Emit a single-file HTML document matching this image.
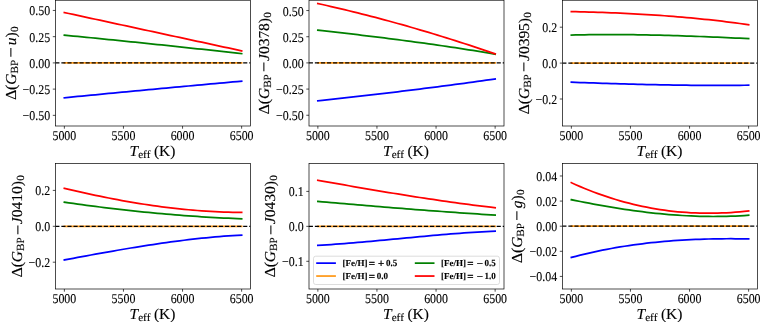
<!DOCTYPE html><html><head><meta charset="utf-8"><style>html,body{margin:0;padding:0;background:#fff;}svg{display:block;will-change:transform;}</style></head><body>
<svg width="760" height="322" viewBox="0 0 760 322" font-family='"Liberation Serif", serif'>
<rect width="760" height="322" fill="#fff"/>
<defs>
<clipPath id="cp0"><rect x="55.5" y="0.25" width="195.0" height="125.75"/></clipPath>
<clipPath id="cp1"><rect x="309.0" y="0.25" width="195.0" height="125.75"/></clipPath>
<clipPath id="cp2"><rect x="562.5" y="0.25" width="195.0" height="125.75"/></clipPath>
<clipPath id="cp3"><rect x="55.5" y="163.5" width="195.0" height="125.5"/></clipPath>
<clipPath id="cp4"><rect x="309.0" y="163.5" width="195.0" height="125.5"/></clipPath>
<clipPath id="cp5"><rect x="562.5" y="163.5" width="195.0" height="125.5"/></clipPath>
</defs>
<g><g clip-path="url(#cp0)" fill="none" stroke-width="1.75" stroke-linecap="square" stroke-linejoin="round"><path d="M64.36,62.9 L241.64,62.9" stroke="#ff9a1a"/><path d="M64.36,97.75 L68.79,97.32 L73.22,96.89 L77.66,96.46 L82.09,96.04 L86.52,95.61 L90.95,95.18 L95.38,94.76 L99.82,94.33 L104.25,93.91 L108.68,93.49 L113.11,93.07 L117.54,92.64 L121.98,92.22 L126.41,91.80 L130.84,91.38 L135.27,90.97 L139.70,90.55 L144.14,90.13 L148.57,89.72 L153.00,89.30 L157.43,88.89 L161.86,88.47 L166.30,88.06 L170.73,87.65 L175.16,87.23 L179.59,86.82 L184.02,86.41 L188.46,86.00 L192.89,85.60 L197.32,85.19 L201.75,84.78 L206.18,84.37 L210.62,83.97 L215.05,83.56 L219.48,83.16 L223.91,82.76 L228.34,82.35 L232.78,81.95 L237.21,81.55 L241.64,81.15" stroke="#0000ff"/><path d="M64.36,35.15 L68.79,35.58 L73.22,36.01 L77.66,36.44 L82.09,36.87 L86.52,37.31 L90.95,37.75 L95.38,38.19 L99.82,38.63 L104.25,39.07 L108.68,39.51 L113.11,39.96 L117.54,40.41 L121.98,40.86 L126.41,41.31 L130.84,41.76 L135.27,42.21 L139.70,42.67 L144.14,43.13 L148.57,43.59 L153.00,44.05 L157.43,44.51 L161.86,44.98 L166.30,45.45 L170.73,45.91 L175.16,46.38 L179.59,46.86 L184.02,47.33 L188.46,47.81 L192.89,48.28 L197.32,48.76 L201.75,49.24 L206.18,49.73 L210.62,50.21 L215.05,50.70 L219.48,51.18 L223.91,51.67 L228.34,52.17 L232.78,52.66 L237.21,53.15 L241.64,53.65" stroke="#008000"/><path d="M64.36,12.55 L68.79,13.51 L73.22,14.46 L77.66,15.42 L82.09,16.38 L86.52,17.34 L90.95,18.29 L95.38,19.25 L99.82,20.21 L104.25,21.17 L108.68,22.12 L113.11,23.08 L117.54,24.04 L121.98,25.00 L126.41,25.95 L130.84,26.91 L135.27,27.87 L139.70,28.83 L144.14,29.79 L148.57,30.74 L153.00,31.70 L157.43,32.66 L161.86,33.62 L166.30,34.57 L170.73,35.53 L175.16,36.49 L179.59,37.45 L184.02,38.40 L188.46,39.36 L192.89,40.32 L197.32,41.27 L201.75,42.23 L206.18,43.19 L210.62,44.15 L215.05,45.10 L219.48,46.06 L223.91,47.02 L228.34,47.98 L232.78,48.93 L237.21,49.89 L241.64,50.85" stroke="#ff0000"/><path d="M55.5,62.9 L250.5,62.9" stroke="#000" stroke-width="1.25" stroke-dasharray="4.15 1.91" stroke-dashoffset="0.2" stroke-linecap="butt"/></g><rect x="55.5" y="0.25" width="195.0" height="125.75" fill="none" stroke="#000" stroke-width="0.7"/><path d="M52.80,10.45 L55.50,10.45 M52.80,36.67 L55.50,36.67 M52.80,62.90 L55.50,62.90 M52.80,89.12 L55.50,89.12 M52.80,115.35 L55.50,115.35 M64.36,126.00 L64.36,128.70 M123.45,126.00 L123.45,128.70 M182.55,126.00 L182.55,128.70 M241.64,126.00 L241.64,128.70" stroke="#000" stroke-width="0.7" fill="none"/><text transform="translate(50.20,15.45) scale(0.890,1)" text-anchor="end" text-rendering="geometricPrecision" stroke="#000" stroke-width="0.12"><tspan font-size="13.40">0.50</tspan></text><text transform="translate(50.20,41.67) scale(0.890,1)" text-anchor="end" text-rendering="geometricPrecision" stroke="#000" stroke-width="0.12"><tspan font-size="13.40">0.25</tspan></text><text transform="translate(50.20,67.90) scale(0.890,1)" text-anchor="end" text-rendering="geometricPrecision" stroke="#000" stroke-width="0.12"><tspan font-size="13.40">0.00</tspan></text><text transform="translate(50.20,94.12) scale(0.890,1)" text-anchor="end" text-rendering="geometricPrecision" stroke="#000" stroke-width="0.12"><tspan font-size="13.40">−0.25</tspan></text><text transform="translate(50.20,120.35) scale(0.890,1)" text-anchor="end" text-rendering="geometricPrecision" stroke="#000" stroke-width="0.12"><tspan font-size="13.40">−0.50</tspan></text><text transform="translate(64.36,140.45) scale(0.890,1)" text-anchor="middle" text-rendering="geometricPrecision" stroke="#000" stroke-width="0.12"><tspan font-size="13.40">5000</tspan></text><text transform="translate(123.45,140.45) scale(0.890,1)" text-anchor="middle" text-rendering="geometricPrecision" stroke="#000" stroke-width="0.12"><tspan font-size="13.40">5500</tspan></text><text transform="translate(182.55,140.45) scale(0.890,1)" text-anchor="middle" text-rendering="geometricPrecision" stroke="#000" stroke-width="0.12"><tspan font-size="13.40">6000</tspan></text><text transform="translate(241.64,140.45) scale(0.890,1)" text-anchor="middle" text-rendering="geometricPrecision" stroke="#000" stroke-width="0.12"><tspan font-size="13.40">6500</tspan></text><text transform="translate(152.50,156.20) scale(1.020,1)" text-anchor="middle" text-rendering="geometricPrecision" stroke="#000" stroke-width="0.12"><tspan font-size="15.20" font-style="italic">T</tspan><tspan font-size="10.94" dy="2.00">eff</tspan><tspan font-size="15.20" dx="3.50" dy="-2.00">(K)</tspan></text><text transform="translate(15.50,63.12) rotate(-90) scale(1.020,1)" text-anchor="middle" text-rendering="geometricPrecision" stroke="#000" stroke-width="0.12"><tspan font-size="15.20">Δ(</tspan><tspan font-size="15.20" font-style="italic">G</tspan><tspan font-size="10.94" dy="2.00">BP</tspan><tspan font-size="18.50" dx="2.00" dy="-0.70">−</tspan><tspan font-size="15.20" font-style="italic" dx="2.00" dy="-1.30">u</tspan><tspan font-size="15.20">)</tspan><tspan font-size="10.94" dx="0.30" dy="2.00">0</tspan></text></g>
<g><g clip-path="url(#cp1)" fill="none" stroke-width="1.75" stroke-linecap="square" stroke-linejoin="round"><path d="M317.86,62.9 L495.14,62.9" stroke="#ff9a1a"/><path d="M317.86,100.75 L322.29,100.29 L326.72,99.82 L331.16,99.35 L335.59,98.88 L340.02,98.40 L344.45,97.91 L348.88,97.43 L353.32,96.93 L357.75,96.44 L362.18,95.94 L366.61,95.43 L371.04,94.92 L375.48,94.41 L379.91,93.89 L384.34,93.37 L388.77,92.85 L393.20,92.32 L397.64,91.78 L402.07,91.24 L406.50,90.70 L410.93,90.15 L415.36,89.60 L419.80,89.05 L424.23,88.49 L428.66,87.92 L433.09,87.35 L437.52,86.78 L441.96,86.20 L446.39,85.62 L450.82,85.04 L455.25,84.45 L459.68,83.85 L464.12,83.26 L468.55,82.65 L472.98,82.05 L477.41,81.44 L481.84,80.82 L486.28,80.20 L490.71,79.58 L495.14,78.95" stroke="#0000ff"/><path d="M317.86,30.15 L322.29,30.64 L326.72,31.14 L331.16,31.65 L335.59,32.15 L340.02,32.66 L344.45,33.17 L348.88,33.69 L353.32,34.21 L357.75,34.73 L362.18,35.26 L366.61,35.79 L371.04,36.33 L375.48,36.88 L379.91,37.42 L384.34,37.98 L388.77,38.54 L393.20,39.10 L397.64,39.67 L402.07,40.25 L406.50,40.83 L410.93,41.42 L415.36,42.02 L419.80,42.62 L424.23,43.23 L428.66,43.85 L433.09,44.48 L437.52,45.11 L441.96,45.75 L446.39,46.40 L450.82,47.06 L455.25,47.73 L459.68,48.40 L464.12,49.09 L468.55,49.78 L472.98,50.48 L477.41,51.20 L481.84,51.92 L486.28,52.65 L490.71,53.39 L495.14,54.15" stroke="#008000"/><path d="M317.86,3.52 L322.29,4.51 L326.72,5.51 L331.16,6.53 L335.59,7.56 L340.02,8.61 L344.45,9.66 L348.88,10.74 L353.32,11.83 L357.75,12.93 L362.18,14.04 L366.61,15.17 L371.04,16.32 L375.48,17.47 L379.91,18.64 L384.34,19.83 L388.77,21.03 L393.20,22.24 L397.64,23.47 L402.07,24.71 L406.50,25.96 L410.93,27.23 L415.36,28.51 L419.80,29.80 L424.23,31.11 L428.66,32.43 L433.09,33.77 L437.52,35.12 L441.96,36.48 L446.39,37.85 L450.82,39.24 L455.25,40.64 L459.68,42.06 L464.12,43.49 L468.55,44.93 L472.98,46.38 L477.41,47.85 L481.84,49.33 L486.28,50.83 L490.71,52.33 L495.14,53.85" stroke="#ff0000"/><path d="M309.0,62.9 L504.0,62.9" stroke="#000" stroke-width="1.25" stroke-dasharray="4.15 1.91" stroke-dashoffset="0.2" stroke-linecap="butt"/></g><rect x="309.0" y="0.25" width="195.0" height="125.75" fill="none" stroke="#000" stroke-width="0.7"/><path d="M306.30,10.55 L309.00,10.55 M306.30,36.72 L309.00,36.72 M306.30,62.90 L309.00,62.90 M306.30,89.08 L309.00,89.08 M306.30,115.25 L309.00,115.25 M317.86,126.00 L317.86,128.70 M376.95,126.00 L376.95,128.70 M436.05,126.00 L436.05,128.70 M495.14,126.00 L495.14,128.70" stroke="#000" stroke-width="0.7" fill="none"/><text transform="translate(303.70,15.55) scale(0.890,1)" text-anchor="end" text-rendering="geometricPrecision" stroke="#000" stroke-width="0.12"><tspan font-size="13.40">0.50</tspan></text><text transform="translate(303.70,41.72) scale(0.890,1)" text-anchor="end" text-rendering="geometricPrecision" stroke="#000" stroke-width="0.12"><tspan font-size="13.40">0.25</tspan></text><text transform="translate(303.70,67.90) scale(0.890,1)" text-anchor="end" text-rendering="geometricPrecision" stroke="#000" stroke-width="0.12"><tspan font-size="13.40">0.00</tspan></text><text transform="translate(303.70,94.08) scale(0.890,1)" text-anchor="end" text-rendering="geometricPrecision" stroke="#000" stroke-width="0.12"><tspan font-size="13.40">−0.25</tspan></text><text transform="translate(303.70,120.25) scale(0.890,1)" text-anchor="end" text-rendering="geometricPrecision" stroke="#000" stroke-width="0.12"><tspan font-size="13.40">−0.50</tspan></text><text transform="translate(317.86,140.45) scale(0.890,1)" text-anchor="middle" text-rendering="geometricPrecision" stroke="#000" stroke-width="0.12"><tspan font-size="13.40">5000</tspan></text><text transform="translate(376.95,140.45) scale(0.890,1)" text-anchor="middle" text-rendering="geometricPrecision" stroke="#000" stroke-width="0.12"><tspan font-size="13.40">5500</tspan></text><text transform="translate(436.05,140.45) scale(0.890,1)" text-anchor="middle" text-rendering="geometricPrecision" stroke="#000" stroke-width="0.12"><tspan font-size="13.40">6000</tspan></text><text transform="translate(495.14,140.45) scale(0.890,1)" text-anchor="middle" text-rendering="geometricPrecision" stroke="#000" stroke-width="0.12"><tspan font-size="13.40">6500</tspan></text><text transform="translate(406.00,156.20) scale(1.020,1)" text-anchor="middle" text-rendering="geometricPrecision" stroke="#000" stroke-width="0.12"><tspan font-size="15.20" font-style="italic">T</tspan><tspan font-size="10.94" dy="2.00">eff</tspan><tspan font-size="15.20" dx="3.50" dy="-2.00">(K)</tspan></text><text transform="translate(269.00,63.12) rotate(-90) scale(1.020,1)" text-anchor="middle" text-rendering="geometricPrecision" stroke="#000" stroke-width="0.12"><tspan font-size="15.20">Δ(</tspan><tspan font-size="15.20" font-style="italic">G</tspan><tspan font-size="10.94" dy="2.00">BP</tspan><tspan font-size="18.50" dx="2.00" dy="-0.70">−</tspan><tspan font-size="15.20" font-style="italic" dx="0.50" dy="-1.30">J</tspan><tspan font-size="15.20">0378</tspan><tspan font-size="15.20">)</tspan><tspan font-size="10.94" dx="0.30" dy="2.00">0</tspan></text></g>
<g><g clip-path="url(#cp2)" fill="none" stroke-width="1.75" stroke-linecap="square" stroke-linejoin="round"><path d="M571.36,63.1 L748.64,63.1" stroke="#ff9a1a"/><path d="M571.36,82.24 L575.79,82.39 L580.22,82.54 L584.66,82.69 L589.09,82.84 L593.52,82.99 L597.95,83.13 L602.38,83.27 L606.82,83.41 L611.25,83.55 L615.68,83.68 L620.11,83.81 L624.54,83.94 L628.98,84.06 L633.41,84.18 L637.84,84.30 L642.27,84.41 L646.70,84.51 L651.14,84.61 L655.57,84.71 L660.00,84.80 L664.43,84.89 L668.86,84.97 L673.30,85.04 L677.73,85.11 L682.16,85.17 L686.59,85.23 L691.02,85.28 L695.46,85.32 L699.89,85.35 L704.32,85.38 L708.75,85.40 L713.18,85.41 L717.62,85.42 L722.05,85.41 L726.48,85.40 L730.91,85.37 L735.34,85.34 L739.78,85.30 L744.21,85.25 L748.64,85.19" stroke="#0000ff"/><path d="M571.36,35.04 L575.79,34.94 L580.22,34.85 L584.66,34.77 L589.09,34.70 L593.52,34.65 L597.95,34.61 L602.38,34.58 L606.82,34.57 L611.25,34.56 L615.68,34.57 L620.11,34.59 L624.54,34.62 L628.98,34.66 L633.41,34.71 L637.84,34.77 L642.27,34.84 L646.70,34.92 L651.14,35.01 L655.57,35.11 L660.00,35.22 L664.43,35.33 L668.86,35.45 L673.30,35.58 L677.73,35.72 L682.16,35.86 L686.59,36.01 L691.02,36.17 L695.46,36.33 L699.89,36.50 L704.32,36.67 L708.75,36.85 L713.18,37.04 L717.62,37.22 L722.05,37.42 L726.48,37.61 L730.91,37.81 L735.34,38.02 L739.78,38.22 L744.21,38.43 L748.64,38.64" stroke="#008000"/><path d="M571.36,11.55 L575.79,11.65 L580.22,11.76 L584.66,11.88 L589.09,12.01 L593.52,12.14 L597.95,12.29 L602.38,12.44 L606.82,12.60 L611.25,12.78 L615.68,12.96 L620.11,13.16 L624.54,13.36 L628.98,13.58 L633.41,13.81 L637.84,14.05 L642.27,14.30 L646.70,14.56 L651.14,14.84 L655.57,15.13 L660.00,15.43 L664.43,15.75 L668.86,16.08 L673.30,16.43 L677.73,16.78 L682.16,17.16 L686.59,17.55 L691.02,17.95 L695.46,18.37 L699.89,18.81 L704.32,19.26 L708.75,19.73 L713.18,20.22 L717.62,20.72 L722.05,21.24 L726.48,21.78 L730.91,22.33 L735.34,22.91 L739.78,23.50 L744.21,24.12 L748.64,24.75" stroke="#ff0000"/><path d="M562.5,63.1 L757.5,63.1" stroke="#000" stroke-width="1.25" stroke-dasharray="4.15 1.91" stroke-dashoffset="0.2" stroke-linecap="butt"/></g><rect x="562.5" y="0.25" width="195.0" height="125.75" fill="none" stroke="#000" stroke-width="0.7"/><path d="M559.80,27.20 L562.50,27.20 M559.80,63.10 L562.50,63.10 M559.80,99.00 L562.50,99.00 M571.36,126.00 L571.36,128.70 M630.45,126.00 L630.45,128.70 M689.55,126.00 L689.55,128.70 M748.64,126.00 L748.64,128.70" stroke="#000" stroke-width="0.7" fill="none"/><text transform="translate(557.20,32.20) scale(0.890,1)" text-anchor="end" text-rendering="geometricPrecision" stroke="#000" stroke-width="0.12"><tspan font-size="13.40">0.2</tspan></text><text transform="translate(557.20,68.10) scale(0.890,1)" text-anchor="end" text-rendering="geometricPrecision" stroke="#000" stroke-width="0.12"><tspan font-size="13.40">0.0</tspan></text><text transform="translate(557.20,104.00) scale(0.890,1)" text-anchor="end" text-rendering="geometricPrecision" stroke="#000" stroke-width="0.12"><tspan font-size="13.40">−0.2</tspan></text><text transform="translate(571.36,140.45) scale(0.890,1)" text-anchor="middle" text-rendering="geometricPrecision" stroke="#000" stroke-width="0.12"><tspan font-size="13.40">5000</tspan></text><text transform="translate(630.45,140.45) scale(0.890,1)" text-anchor="middle" text-rendering="geometricPrecision" stroke="#000" stroke-width="0.12"><tspan font-size="13.40">5500</tspan></text><text transform="translate(689.55,140.45) scale(0.890,1)" text-anchor="middle" text-rendering="geometricPrecision" stroke="#000" stroke-width="0.12"><tspan font-size="13.40">6000</tspan></text><text transform="translate(748.64,140.45) scale(0.890,1)" text-anchor="middle" text-rendering="geometricPrecision" stroke="#000" stroke-width="0.12"><tspan font-size="13.40">6500</tspan></text><text transform="translate(659.50,156.20) scale(1.020,1)" text-anchor="middle" text-rendering="geometricPrecision" stroke="#000" stroke-width="0.12"><tspan font-size="15.20" font-style="italic">T</tspan><tspan font-size="10.94" dy="2.00">eff</tspan><tspan font-size="15.20" dx="3.50" dy="-2.00">(K)</tspan></text><text transform="translate(529.10,63.12) rotate(-90) scale(1.020,1)" text-anchor="middle" text-rendering="geometricPrecision" stroke="#000" stroke-width="0.12"><tspan font-size="15.20">Δ(</tspan><tspan font-size="15.20" font-style="italic">G</tspan><tspan font-size="10.94" dy="2.00">BP</tspan><tspan font-size="18.50" dx="2.00" dy="-0.70">−</tspan><tspan font-size="15.20" font-style="italic" dx="0.50" dy="-1.30">J</tspan><tspan font-size="15.20">0395</tspan><tspan font-size="15.20">)</tspan><tspan font-size="10.94" dx="0.30" dy="2.00">0</tspan></text></g>
<g><g clip-path="url(#cp3)" fill="none" stroke-width="1.75" stroke-linecap="square" stroke-linejoin="round"><path d="M64.36,226.3 L241.64,226.3" stroke="#ff9a1a"/><path d="M64.36,259.98 L68.79,259.15 L73.22,258.31 L77.66,257.48 L82.09,256.65 L86.52,255.83 L90.95,255.01 L95.38,254.20 L99.82,253.40 L104.25,252.60 L108.68,251.81 L113.11,251.03 L117.54,250.26 L121.98,249.50 L126.41,248.75 L130.84,248.01 L135.27,247.28 L139.70,246.57 L144.14,245.87 L148.57,245.18 L153.00,244.51 L157.43,243.85 L161.86,243.21 L166.30,242.58 L170.73,241.97 L175.16,241.38 L179.59,240.81 L184.02,240.25 L188.46,239.72 L192.89,239.21 L197.32,238.71 L201.75,238.24 L206.18,237.79 L210.62,237.37 L215.05,236.97 L219.48,236.59 L223.91,236.23 L228.34,235.91 L232.78,235.61 L237.21,235.33 L241.64,235.08" stroke="#0000ff"/><path d="M64.36,202.24 L68.79,202.87 L73.22,203.49 L77.66,204.10 L82.09,204.70 L86.52,205.29 L90.95,205.87 L95.38,206.44 L99.82,207.00 L104.25,207.55 L108.68,208.09 L113.11,208.62 L117.54,209.14 L121.98,209.65 L126.41,210.14 L130.84,210.63 L135.27,211.11 L139.70,211.57 L144.14,212.02 L148.57,212.46 L153.00,212.89 L157.43,213.31 L161.86,213.71 L166.30,214.10 L170.73,214.48 L175.16,214.85 L179.59,215.20 L184.02,215.54 L188.46,215.87 L192.89,216.19 L197.32,216.49 L201.75,216.78 L206.18,217.05 L210.62,217.31 L215.05,217.56 L219.48,217.79 L223.91,218.01 L228.34,218.22 L232.78,218.41 L237.21,218.58 L241.64,218.74" stroke="#008000"/><path d="M64.36,188.24 L68.79,189.30 L73.22,190.35 L77.66,191.37 L82.09,192.38 L86.52,193.37 L90.95,194.34 L95.38,195.29 L99.82,196.21 L104.25,197.12 L108.68,198.00 L113.11,198.87 L117.54,199.71 L121.98,200.52 L126.41,201.32 L130.84,202.09 L135.27,202.83 L139.70,203.56 L144.14,204.25 L148.57,204.92 L153.00,205.57 L157.43,206.19 L161.86,206.78 L166.30,207.34 L170.73,207.88 L175.16,208.39 L179.59,208.87 L184.02,209.32 L188.46,209.75 L192.89,210.14 L197.32,210.50 L201.75,210.84 L206.18,211.14 L210.62,211.41 L215.05,211.65 L219.48,211.85 L223.91,212.03 L228.34,212.17 L232.78,212.27 L237.21,212.35 L241.64,212.39" stroke="#ff0000"/><path d="M55.5,226.3 L250.5,226.3" stroke="#000" stroke-width="1.25" stroke-dasharray="4.15 1.91" stroke-dashoffset="0.2" stroke-linecap="butt"/></g><rect x="55.5" y="163.5" width="195.0" height="125.5" fill="none" stroke="#000" stroke-width="0.7"/><path d="M52.80,190.40 L55.50,190.40 M52.80,226.30 L55.50,226.30 M52.80,262.20 L55.50,262.20 M64.36,289.00 L64.36,291.70 M123.45,289.00 L123.45,291.70 M182.55,289.00 L182.55,291.70 M241.64,289.00 L241.64,291.70" stroke="#000" stroke-width="0.7" fill="none"/><text transform="translate(50.20,195.40) scale(0.890,1)" text-anchor="end" text-rendering="geometricPrecision" stroke="#000" stroke-width="0.12"><tspan font-size="13.40">0.2</tspan></text><text transform="translate(50.20,231.30) scale(0.890,1)" text-anchor="end" text-rendering="geometricPrecision" stroke="#000" stroke-width="0.12"><tspan font-size="13.40">0.0</tspan></text><text transform="translate(50.20,267.20) scale(0.890,1)" text-anchor="end" text-rendering="geometricPrecision" stroke="#000" stroke-width="0.12"><tspan font-size="13.40">−0.2</tspan></text><text transform="translate(64.36,303.45) scale(0.890,1)" text-anchor="middle" text-rendering="geometricPrecision" stroke="#000" stroke-width="0.12"><tspan font-size="13.40">5000</tspan></text><text transform="translate(123.45,303.45) scale(0.890,1)" text-anchor="middle" text-rendering="geometricPrecision" stroke="#000" stroke-width="0.12"><tspan font-size="13.40">5500</tspan></text><text transform="translate(182.55,303.45) scale(0.890,1)" text-anchor="middle" text-rendering="geometricPrecision" stroke="#000" stroke-width="0.12"><tspan font-size="13.40">6000</tspan></text><text transform="translate(241.64,303.45) scale(0.890,1)" text-anchor="middle" text-rendering="geometricPrecision" stroke="#000" stroke-width="0.12"><tspan font-size="13.40">6500</tspan></text><text transform="translate(152.50,319.20) scale(1.020,1)" text-anchor="middle" text-rendering="geometricPrecision" stroke="#000" stroke-width="0.12"><tspan font-size="15.20" font-style="italic">T</tspan><tspan font-size="10.94" dy="2.00">eff</tspan><tspan font-size="15.20" dx="3.50" dy="-2.00">(K)</tspan></text><text transform="translate(22.40,226.25) rotate(-90) scale(1.020,1)" text-anchor="middle" text-rendering="geometricPrecision" stroke="#000" stroke-width="0.12"><tspan font-size="15.20">Δ(</tspan><tspan font-size="15.20" font-style="italic">G</tspan><tspan font-size="10.94" dy="2.00">BP</tspan><tspan font-size="18.50" dx="2.00" dy="-0.70">−</tspan><tspan font-size="15.20" font-style="italic" dx="0.50" dy="-1.30">J</tspan><tspan font-size="15.20">0410</tspan><tspan font-size="15.20">)</tspan><tspan font-size="10.94" dx="0.30" dy="2.00">0</tspan></text></g>
<g><g clip-path="url(#cp4)" fill="none" stroke-width="1.75" stroke-linecap="square" stroke-linejoin="round"><path d="M317.86,226.35 L495.14,226.35" stroke="#ff9a1a"/><path d="M317.86,245.37 L322.29,245.11 L326.72,244.83 L331.16,244.53 L335.59,244.22 L340.02,243.89 L344.45,243.55 L348.88,243.20 L353.32,242.84 L357.75,242.46 L362.18,242.08 L366.61,241.69 L371.04,241.29 L375.48,240.89 L379.91,240.48 L384.34,240.06 L388.77,239.64 L393.20,239.22 L397.64,238.80 L402.07,238.38 L406.50,237.95 L410.93,237.53 L415.36,237.11 L419.80,236.70 L424.23,236.29 L428.66,235.89 L433.09,235.49 L437.52,235.10 L441.96,234.72 L446.39,234.34 L450.82,233.98 L455.25,233.63 L459.68,233.29 L464.12,232.97 L468.55,232.66 L472.98,232.37 L477.41,232.09 L481.84,231.83 L486.28,231.59 L490.71,231.37 L495.14,231.17" stroke="#0000ff"/><path d="M317.86,201.43 L322.29,201.82 L326.72,202.21 L331.16,202.59 L335.59,202.97 L340.02,203.36 L344.45,203.74 L348.88,204.11 L353.32,204.49 L357.75,204.86 L362.18,205.24 L366.61,205.61 L371.04,205.97 L375.48,206.34 L379.91,206.70 L384.34,207.06 L388.77,207.42 L393.20,207.77 L397.64,208.12 L402.07,208.47 L406.50,208.82 L410.93,209.17 L415.36,209.51 L419.80,209.85 L424.23,210.18 L428.66,210.52 L433.09,210.85 L437.52,211.17 L441.96,211.50 L446.39,211.82 L450.82,212.14 L455.25,212.45 L459.68,212.76 L464.12,213.07 L468.55,213.37 L472.98,213.68 L477.41,213.97 L481.84,214.27 L486.28,214.56 L490.71,214.85 L495.14,215.13" stroke="#008000"/><path d="M317.86,180.28 L322.29,181.06 L326.72,181.85 L331.16,182.63 L335.59,183.41 L340.02,184.19 L344.45,184.97 L348.88,185.75 L353.32,186.52 L357.75,187.28 L362.18,188.05 L366.61,188.81 L371.04,189.56 L375.48,190.31 L379.91,191.06 L384.34,191.80 L388.77,192.53 L393.20,193.26 L397.64,193.98 L402.07,194.70 L406.50,195.40 L410.93,196.11 L415.36,196.80 L419.80,197.49 L424.23,198.16 L428.66,198.83 L433.09,199.49 L437.52,200.15 L441.96,200.79 L446.39,201.42 L450.82,202.05 L455.25,202.66 L459.68,203.26 L464.12,203.86 L468.55,204.44 L472.98,205.01 L477.41,205.57 L481.84,206.11 L486.28,206.65 L490.71,207.17 L495.14,207.68" stroke="#ff0000"/><path d="M309.0,226.35 L504.0,226.35" stroke="#000" stroke-width="1.25" stroke-dasharray="4.15 1.91" stroke-dashoffset="0.2" stroke-linecap="butt"/></g><rect x="309.0" y="163.5" width="195.0" height="125.5" fill="none" stroke="#000" stroke-width="0.7"/><path d="M306.30,191.40 L309.00,191.40 M306.30,226.35 L309.00,226.35 M306.30,261.30 L309.00,261.30 M317.86,289.00 L317.86,291.70 M376.95,289.00 L376.95,291.70 M436.05,289.00 L436.05,291.70 M495.14,289.00 L495.14,291.70" stroke="#000" stroke-width="0.7" fill="none"/><text transform="translate(303.70,196.40) scale(0.890,1)" text-anchor="end" text-rendering="geometricPrecision" stroke="#000" stroke-width="0.12"><tspan font-size="13.40">0.1</tspan></text><text transform="translate(303.70,231.35) scale(0.890,1)" text-anchor="end" text-rendering="geometricPrecision" stroke="#000" stroke-width="0.12"><tspan font-size="13.40">0.0</tspan></text><text transform="translate(303.70,266.30) scale(0.890,1)" text-anchor="end" text-rendering="geometricPrecision" stroke="#000" stroke-width="0.12"><tspan font-size="13.40">−0.1</tspan></text><text transform="translate(317.86,303.45) scale(0.890,1)" text-anchor="middle" text-rendering="geometricPrecision" stroke="#000" stroke-width="0.12"><tspan font-size="13.40">5000</tspan></text><text transform="translate(376.95,303.45) scale(0.890,1)" text-anchor="middle" text-rendering="geometricPrecision" stroke="#000" stroke-width="0.12"><tspan font-size="13.40">5500</tspan></text><text transform="translate(436.05,303.45) scale(0.890,1)" text-anchor="middle" text-rendering="geometricPrecision" stroke="#000" stroke-width="0.12"><tspan font-size="13.40">6000</tspan></text><text transform="translate(495.14,303.45) scale(0.890,1)" text-anchor="middle" text-rendering="geometricPrecision" stroke="#000" stroke-width="0.12"><tspan font-size="13.40">6500</tspan></text><text transform="translate(406.00,319.20) scale(1.020,1)" text-anchor="middle" text-rendering="geometricPrecision" stroke="#000" stroke-width="0.12"><tspan font-size="15.20" font-style="italic">T</tspan><tspan font-size="10.94" dy="2.00">eff</tspan><tspan font-size="15.20" dx="3.50" dy="-2.00">(K)</tspan></text><text transform="translate(275.30,226.25) rotate(-90) scale(1.020,1)" text-anchor="middle" text-rendering="geometricPrecision" stroke="#000" stroke-width="0.12"><tspan font-size="15.20">Δ(</tspan><tspan font-size="15.20" font-style="italic">G</tspan><tspan font-size="10.94" dy="2.00">BP</tspan><tspan font-size="18.50" dx="2.00" dy="-0.70">−</tspan><tspan font-size="15.20" font-style="italic" dx="0.50" dy="-1.30">J</tspan><tspan font-size="15.20">0430</tspan><tspan font-size="15.20">)</tspan><tspan font-size="10.94" dx="0.30" dy="2.00">0</tspan></text></g>
<g><g clip-path="url(#cp5)" fill="none" stroke-width="1.75" stroke-linecap="square" stroke-linejoin="round"><path d="M571.36,226.2 L748.64,226.2" stroke="#ff9a1a"/><path d="M571.36,257.46 L575.79,256.29 L580.22,255.17 L584.66,254.09 L589.09,253.06 L593.52,252.07 L597.95,251.12 L602.38,250.21 L606.82,249.34 L611.25,248.51 L615.68,247.72 L620.11,246.97 L624.54,246.26 L628.98,245.59 L633.41,244.95 L637.84,244.34 L642.27,243.77 L646.70,243.24 L651.14,242.74 L655.57,242.27 L660.00,241.84 L664.43,241.44 L668.86,241.06 L673.30,240.72 L677.73,240.41 L682.16,240.13 L686.59,239.87 L691.02,239.65 L695.46,239.45 L699.89,239.27 L704.32,239.12 L708.75,239.00 L713.18,238.90 L717.62,238.83 L722.05,238.78 L726.48,238.75 L730.91,238.74 L735.34,238.75 L739.78,238.78 L744.21,238.84 L748.64,238.91" stroke="#0000ff"/><path d="M571.36,199.71 L575.79,200.62 L580.22,201.50 L584.66,202.37 L589.09,203.23 L593.52,204.06 L597.95,204.87 L602.38,205.66 L606.82,206.43 L611.25,207.18 L615.68,207.90 L620.11,208.61 L624.54,209.28 L628.98,209.93 L633.41,210.56 L637.84,211.16 L642.27,211.73 L646.70,212.27 L651.14,212.78 L655.57,213.27 L660.00,213.72 L664.43,214.14 L668.86,214.53 L673.30,214.89 L677.73,215.21 L682.16,215.50 L686.59,215.75 L691.02,215.97 L695.46,216.15 L699.89,216.30 L704.32,216.40 L708.75,216.47 L713.18,216.50 L717.62,216.49 L722.05,216.43 L726.48,216.34 L730.91,216.20 L735.34,216.02 L739.78,215.80 L744.21,215.53 L748.64,215.21" stroke="#008000"/><path d="M571.36,182.68 L575.79,184.68 L580.22,186.61 L584.66,188.47 L589.09,190.26 L593.52,191.97 L597.95,193.62 L602.38,195.19 L606.82,196.70 L611.25,198.14 L615.68,199.51 L620.11,200.82 L624.54,202.05 L628.98,203.22 L633.41,204.32 L637.84,205.36 L642.27,206.33 L646.70,207.23 L651.14,208.07 L655.57,208.85 L660.00,209.56 L664.43,210.20 L668.86,210.79 L673.30,211.31 L677.73,211.76 L682.16,212.16 L686.59,212.49 L691.02,212.76 L695.46,212.97 L699.89,213.12 L704.32,213.21 L708.75,213.24 L713.18,213.21 L717.62,213.12 L722.05,212.98 L726.48,212.77 L730.91,212.51 L735.34,212.19 L739.78,211.81 L744.21,211.38 L748.64,210.88" stroke="#ff0000"/><path d="M562.5,226.2 L757.5,226.2" stroke="#000" stroke-width="1.25" stroke-dasharray="4.15 1.91" stroke-dashoffset="0.2" stroke-linecap="butt"/></g><rect x="562.5" y="163.5" width="195.0" height="125.5" fill="none" stroke="#000" stroke-width="0.7"/><path d="M559.80,175.98 L562.50,175.98 M559.80,201.09 L562.50,201.09 M559.80,226.20 L562.50,226.20 M559.80,251.31 L562.50,251.31 M559.80,276.42 L562.50,276.42 M571.36,289.00 L571.36,291.70 M630.45,289.00 L630.45,291.70 M689.55,289.00 L689.55,291.70 M748.64,289.00 L748.64,291.70" stroke="#000" stroke-width="0.7" fill="none"/><text transform="translate(557.20,180.98) scale(0.890,1)" text-anchor="end" text-rendering="geometricPrecision" stroke="#000" stroke-width="0.12"><tspan font-size="13.40">0.04</tspan></text><text transform="translate(557.20,206.09) scale(0.890,1)" text-anchor="end" text-rendering="geometricPrecision" stroke="#000" stroke-width="0.12"><tspan font-size="13.40">0.02</tspan></text><text transform="translate(557.20,231.20) scale(0.890,1)" text-anchor="end" text-rendering="geometricPrecision" stroke="#000" stroke-width="0.12"><tspan font-size="13.40">0.00</tspan></text><text transform="translate(557.20,256.31) scale(0.890,1)" text-anchor="end" text-rendering="geometricPrecision" stroke="#000" stroke-width="0.12"><tspan font-size="13.40">−0.02</tspan></text><text transform="translate(557.20,281.42) scale(0.890,1)" text-anchor="end" text-rendering="geometricPrecision" stroke="#000" stroke-width="0.12"><tspan font-size="13.40">−0.04</tspan></text><text transform="translate(571.36,303.45) scale(0.890,1)" text-anchor="middle" text-rendering="geometricPrecision" stroke="#000" stroke-width="0.12"><tspan font-size="13.40">5000</tspan></text><text transform="translate(630.45,303.45) scale(0.890,1)" text-anchor="middle" text-rendering="geometricPrecision" stroke="#000" stroke-width="0.12"><tspan font-size="13.40">5500</tspan></text><text transform="translate(689.55,303.45) scale(0.890,1)" text-anchor="middle" text-rendering="geometricPrecision" stroke="#000" stroke-width="0.12"><tspan font-size="13.40">6000</tspan></text><text transform="translate(748.64,303.45) scale(0.890,1)" text-anchor="middle" text-rendering="geometricPrecision" stroke="#000" stroke-width="0.12"><tspan font-size="13.40">6500</tspan></text><text transform="translate(659.50,319.20) scale(1.020,1)" text-anchor="middle" text-rendering="geometricPrecision" stroke="#000" stroke-width="0.12"><tspan font-size="15.20" font-style="italic">T</tspan><tspan font-size="10.94" dy="2.00">eff</tspan><tspan font-size="15.20" dx="3.50" dy="-2.00">(K)</tspan></text><text transform="translate(522.10,226.25) rotate(-90) scale(1.020,1)" text-anchor="middle" text-rendering="geometricPrecision" stroke="#000" stroke-width="0.12"><tspan font-size="15.20">Δ(</tspan><tspan font-size="15.20" font-style="italic">G</tspan><tspan font-size="10.94" dy="2.00">BP</tspan><tspan font-size="18.50" dx="2.00" dy="-0.70">−</tspan><tspan font-size="15.20" font-style="italic" dx="2.00" dy="-1.30">g</tspan><tspan font-size="15.20">)</tspan><tspan font-size="10.94" dx="0.30" dy="2.00">0</tspan></text></g>
<g><rect x="313.5" y="256.2" width="186" height="28.3" rx="2.2" ry="2.2" fill="#fff" stroke="#d4d4d4" stroke-width="0.8"/><path d="M316.2,263.15 L335.9,263.15" stroke="#0000ff" stroke-width="1.75" stroke-linecap="butt"/><text transform="translate(342.40,265.70)" text-anchor="start" text-rendering="geometricPrecision" stroke="#000" stroke-width="0.1"><tspan font-size="9.00" font-weight="bold">[Fe/H]</tspan></text><text transform="translate(368.70,267.00)" text-anchor="start" text-rendering="geometricPrecision" stroke="#000" stroke-width="0.35"><tspan font-size="11.00">=</tspan></text><text transform="translate(378.10,267.00)" text-anchor="start" text-rendering="geometricPrecision" stroke="#000" stroke-width="0.35"><tspan font-size="11.00">+</tspan></text><text transform="translate(386.00,265.70) scale(0.950,1)" text-anchor="start" text-rendering="geometricPrecision" stroke="#000" stroke-width="0.1"><tspan font-size="9.50" font-weight="bold">0.5</tspan></text><path d="M316.2,276.05 L335.9,276.05" stroke="#ff9a1a" stroke-width="1.75" stroke-linecap="butt"/><text transform="translate(342.40,278.60)" text-anchor="start" text-rendering="geometricPrecision" stroke="#000" stroke-width="0.1"><tspan font-size="9.00" font-weight="bold">[Fe/H]</tspan></text><text transform="translate(368.70,279.90)" text-anchor="start" text-rendering="geometricPrecision" stroke="#000" stroke-width="0.35"><tspan font-size="11.00">=</tspan></text><text transform="translate(376.65,278.60) scale(0.950,1)" text-anchor="start" text-rendering="geometricPrecision" stroke="#000" stroke-width="0.1"><tspan font-size="9.50" font-weight="bold">0.0</tspan></text><path d="M414.8,263.15 L434.5,263.15" stroke="#008000" stroke-width="1.75" stroke-linecap="butt"/><text transform="translate(441.00,265.70)" text-anchor="start" text-rendering="geometricPrecision" stroke="#000" stroke-width="0.1"><tspan font-size="9.00" font-weight="bold">[Fe/H]</tspan></text><text transform="translate(467.30,267.00)" text-anchor="start" text-rendering="geometricPrecision" stroke="#000" stroke-width="0.35"><tspan font-size="11.00">=</tspan></text><text transform="translate(476.70,267.00)" text-anchor="start" text-rendering="geometricPrecision" stroke="#000" stroke-width="0.35"><tspan font-size="11.00">−</tspan></text><text transform="translate(484.60,265.70) scale(0.950,1)" text-anchor="start" text-rendering="geometricPrecision" stroke="#000" stroke-width="0.1"><tspan font-size="9.50" font-weight="bold">0.5</tspan></text><path d="M414.8,276.05 L434.5,276.05" stroke="#ff0000" stroke-width="1.75" stroke-linecap="butt"/><text transform="translate(441.00,278.60)" text-anchor="start" text-rendering="geometricPrecision" stroke="#000" stroke-width="0.1"><tspan font-size="9.00" font-weight="bold">[Fe/H]</tspan></text><text transform="translate(467.30,279.90)" text-anchor="start" text-rendering="geometricPrecision" stroke="#000" stroke-width="0.35"><tspan font-size="11.00">=</tspan></text><text transform="translate(476.70,279.90)" text-anchor="start" text-rendering="geometricPrecision" stroke="#000" stroke-width="0.35"><tspan font-size="11.00">−</tspan></text><text transform="translate(484.60,278.60) scale(0.950,1)" text-anchor="start" text-rendering="geometricPrecision" stroke="#000" stroke-width="0.1"><tspan font-size="9.50" font-weight="bold">1.0</tspan></text></g>
</svg></body></html>
